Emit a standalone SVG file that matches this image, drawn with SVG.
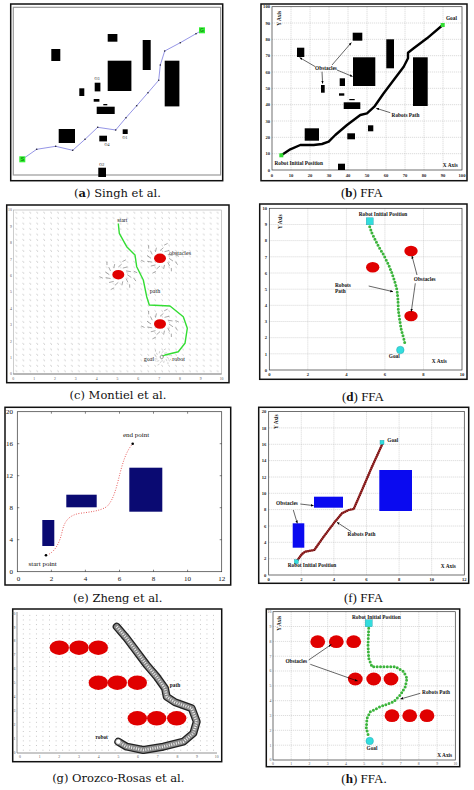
<svg xmlns="http://www.w3.org/2000/svg" xmlns:xlink="http://www.w3.org/1999/xlink" width="474" height="790" viewBox="0 0 474 790">
<style>
.frame{fill:none;stroke:#111;stroke-width:1.5}
.axis{fill:none;stroke:#333;stroke-width:0.7}
.grid{fill:none;stroke:#bbb;stroke-width:0.5;stroke-dasharray:1.2 0.8}
.tk{font-family:"Liberation Serif",serif;font-weight:bold;font-size:4.6px;fill:#222}
.tk.m{text-anchor:middle}
.tk.e{text-anchor:end}
.tks{font-family:"Liberation Serif",serif;font-size:3.8px;fill:#555}
.tkz{font-family:"Liberation Serif",serif;font-size:7px;fill:#111}
.lbl{font-family:"Liberation Serif",serif;font-weight:bold;font-size:5.3px;fill:#111}
.lr{font-family:"Liberation Serif",serif;font-size:6px;fill:#111}
.cap{font-family:"DejaVu Serif",serif;font-size:11.5px;fill:#111;text-anchor:middle}
.capt{font-family:"Liberation Serif",serif;font-size:13px;fill:#111;text-anchor:middle}
.blk{fill:#000}
.red{fill:#e00000}
.navy{fill:#0a0a72}
.blue{fill:#0a0af0}
.cyan{fill:#33dddd;stroke:#2299aa;stroke-width:0.4}
.arr{fill:none;stroke:#000;stroke-width:0.6;marker-end:url(#ah)}
.dots{fill:none;stroke:#3cb43c;stroke-width:3;stroke-linecap:round;stroke-dasharray:0 3.4;stroke-linejoin:round}
.sw line{stroke:#555;stroke-width:0.5}
</style>
<defs>
<marker id="ah" viewBox="0 0 10 10" refX="9" refY="5" markerWidth="5" markerHeight="5" orient="auto"><path d="M0 1 L10 5 L0 9 Z" fill="#000"/></marker>
<pattern id="fieldC" patternUnits="userSpaceOnUse" x="13.3" y="210" width="6.94" height="5.47"><path d="M2.6 2.2 L3.6 3.0" stroke="#777" stroke-width="0.7"/></pattern>
<pattern id="fieldG" patternUnits="userSpaceOnUse" x="20" y="613" width="6.56" height="4.65"><circle cx="3.3" cy="2.3" r="0.45" fill="#888"/></pattern>
<g id="swirl" class="sw">
<line x1="9" y1="0" x2="13" y2="2.8"/><line x1="7.79" y1="3.83" x2="9.6" y2="7.6"/><line x1="4.5" y1="6.63" x2="3.6" y2="10.6"/><line x1="0" y1="7.65" x2="-3.4" y2="10.6"/>
<line x1="-4.5" y1="6.63" x2="-9.2" y2="7.8"/><line x1="-7.79" y1="3.83" x2="-12.6" y2="3"/><line x1="-9" y1="0" x2="-13" y2="-2.8"/><line x1="-7.79" y1="-3.83" x2="-9.6" y2="-7.6"/>
<line x1="-4.5" y1="-6.63" x2="-3.6" y2="-10.6"/><line x1="0" y1="-7.65" x2="3.4" y2="-10.6"/><line x1="4.5" y1="-6.63" x2="9.2" y2="-7.8"/><line x1="7.79" y1="-3.83" x2="12.6" y2="-3"/>
<line x1="15.45" y1="3.52" x2="17.6" y2="6.4"/><line x1="11.31" y1="9.62" x2="11.4" y2="13"/><line x1="-4.14" y1="13.14" x2="-7.6" y2="14.9"/>
<line x1="-15.45" y1="3.52" x2="-18.9" y2="1.9"/><line x1="-11.31" y1="-9.62" x2="-11.4" y2="-13"/>
<line x1="4.14" y1="-13.14" x2="7.6" y2="-14.9"/><line x1="15.45" y1="-3.52" x2="18.9" y2="-1.9"/>
</g>
</defs>
<rect width="474" height="790" fill="#fff"/>

<!-- (a) Singh et al. -->
<g id="panel-a">
<rect class="frame" x="10.7" y="4" width="212" height="176.7"/>
<rect x="13.3" y="7.3" width="207.3" height="167.7" fill="none" stroke="#999" stroke-width="1.2"/>
<g id="a-obstacles" class="blk">
<rect x="107.7" y="34" width="9.7" height="7.7"/>
<rect x="51.3" y="49" width="9" height="12"/>
<rect x="142.7" y="40" width="8" height="30"/>
<rect x="107.7" y="60.7" width="23.7" height="30.3"/>
<rect x="164.7" y="60.7" width="14.7" height="45.7"/>
<rect x="79.3" y="88.3" width="5" height="7.7"/>
<rect x="94.7" y="82.7" width="5.7" height="8.7"/>
<rect x="93.7" y="99" width="5.7" height="2.7"/>
<rect x="103.3" y="104" width="4" height="1.3"/>
<rect x="96.7" y="106.7" width="18" height="7.3"/>
<rect x="58.7" y="129" width="16.3" height="14"/>
<rect x="99.3" y="135.7" width="7.7" height="5.7"/>
<rect x="122.7" y="129.3" width="5" height="4.7"/>
<rect x="98.3" y="167.7" width="7.7" height="9.3"/>
</g>
<g font-family="Liberation Serif,serif" font-size="4px" text-anchor="middle" fill="#111">
<text x="97" y="80.3">O3</text><text x="107" y="145.6">O4</text><text x="125" y="138.8">O1</text><text x="101.7" y="165.6">O2</text>
</g>
<g id="a-path">
<polyline points="22.3,159.3 36.7,149.3 55.7,146.3 72.7,150.3 85,139.3 97.7,127.3 115.7,130 126,117.7 136.7,105.7 148,92.7 158.7,80.3 160.3,65 164.7,51 180.3,42.7 196,33.7 202,30.3" fill="none" stroke="#7a7ae0" stroke-width="0.8"/>
<g fill="#223">
<circle cx="36.7" cy="149.3" r="0.8"/><circle cx="55.7" cy="146.3" r="0.8"/><circle cx="72.7" cy="150.3" r="0.8"/><circle cx="85" cy="139.3" r="0.8"/><circle cx="97.7" cy="127.3" r="0.8"/><circle cx="115.7" cy="130" r="0.8"/><circle cx="126" cy="117.7" r="0.8"/><circle cx="136.7" cy="105.7" r="0.8"/><circle cx="148" cy="92.7" r="0.8"/><circle cx="158.7" cy="80.3" r="0.8"/><circle cx="160.3" cy="65" r="0.8"/><circle cx="164.7" cy="51" r="0.8"/><circle cx="180.3" cy="42.7" r="0.8"/><circle cx="196" cy="33.7" r="0.8"/>
</g>
</g>
<g id="a-start"><rect x="19.3" y="156.3" width="6" height="6" fill="#33ee33"/><text x="22.3" y="161.2" font-family="Liberation Sans,sans-serif" font-size="5px" text-anchor="middle" fill="#060">S</text></g>
<g id="a-goal"><rect x="199" y="27.3" width="6" height="6" fill="#33ee33"/><text x="202" y="32.2" font-family="Liberation Sans,sans-serif" font-size="5px" text-anchor="middle" fill="#060">G</text></g>
<text class="cap" x="117.5" y="197">(<tspan font-weight="bold">a</tspan>) Singh et al.</text>
</g>

<!-- (b) FFA -->
<g id="panel-b">
<rect class="frame" x="261" y="4" width="206" height="176.7"/>
<g class="grid">
<path d="M291 6.7V170M310 6.7V170M329 6.7V170M348 6.7V170M367 6.7V170M386 6.7V170M405 6.7V170M424 6.7V170M443 6.7V170"/>
<path d="M272 153.67H462M272 137.33H462M272 121H462M272 104.67H462M272 88.33H462M272 72H462M272 55.67H462M272 39.33H462M272 23H462"/>
</g>
<rect class="axis" x="272" y="6.7" width="190" height="163.3"/>
<g class="tk e">
<text x="270" y="171.7">0</text><text x="270" y="155.4">10</text><text x="270" y="139">20</text><text x="270" y="122.7">30</text><text x="270" y="106.4">40</text><text x="270" y="90">50</text><text x="270" y="73.7">60</text><text x="270" y="57.4">70</text><text x="270" y="41">80</text><text x="270" y="24.7">90</text><text x="270" y="8.4">100</text>
</g>
<g class="tk m">
<text x="272" y="176.5">0</text><text x="291" y="176.5">10</text><text x="310" y="176.5">20</text><text x="329" y="176.5">30</text><text x="348" y="176.5">40</text><text x="367" y="176.5">50</text><text x="386" y="176.5">60</text><text x="405" y="176.5">70</text><text x="424" y="176.5">80</text><text x="443" y="176.5">90</text><text x="462" y="176.5">100</text>
</g>
<g id="b-obstacles" class="blk">
<rect x="352.7" y="32.7" width="9.6" height="8"/>
<rect x="297" y="47.7" width="7.3" height="9.3"/>
<rect x="386.3" y="39.3" width="7.7" height="29"/>
<rect x="353" y="57.3" width="22.3" height="28.7"/>
<rect x="413" y="57.3" width="14.7" height="48.7"/>
<rect x="339.7" y="78.3" width="5.3" height="7.7"/>
<rect x="321" y="85" width="3.7" height="7.7"/>
<rect x="339" y="93.3" width="5.3" height="2.4"/>
<rect x="349.3" y="99" width="5.4" height="1.2"/>
<rect x="343.7" y="102.3" width="16.6" height="6.7"/>
<rect x="304.7" y="128.3" width="14.3" height="12.4"/>
<rect x="347.3" y="133.3" width="7.7" height="6"/>
<rect x="368" y="125.3" width="5.3" height="6"/>
<rect x="338" y="163.7" width="7" height="6.3"/>
</g>
<polyline id="b-path" points="281.3,155.3 290.3,149.3 300.3,145 313.7,145 322,144 328.7,141.7 335.3,135 347,125 360.3,115 367,113.3 374.3,106.7 383.7,93.3 393.7,80 403.7,66.7 408,58.3 408,52.7 413.7,48.3 427,38.3 442.7,25" fill="none" stroke="#000" stroke-width="2.4" stroke-linejoin="round" stroke-linecap="round"/>
<rect x="279.3" y="153.3" width="4" height="4" fill="#33dd33"/>
<rect x="440.7" y="23" width="4" height="4" fill="#33dd33"/>
<g id="connectors-b">
<line class="arr" x1="315.3" y1="66.7" x2="299.7" y2="57.6"/>
<line class="arr" x1="332" y1="65" x2="351.3" y2="42.7"/>
<line class="arr" x1="322" y1="71.7" x2="322.6" y2="83.5"/>
<line class="arr" x1="337" y1="70" x2="352.5" y2="76.5"/>
<line class="arr" x1="390.3" y1="112.7" x2="376.3" y2="108.3"/>
</g>
<text class="lbl" x="326" y="69.8" text-anchor="middle">Obstacles</text>
<text class="lbl" x="405.5" y="116.5" text-anchor="middle">Robots Path</text>
<text class="lbl" x="446" y="20">Goal</text>
<text class="lbl" x="298.7" y="165" text-anchor="middle">Robot Initial Position</text>
<text class="lbl" x="450.3" y="166.7" text-anchor="middle">X Axis</text>
<text class="lbl" transform="translate(280.6,18.3) rotate(-90)" text-anchor="middle">Y Axis</text>
<text class="capt" x="362" y="197">(<tspan font-weight="bold">b</tspan>) FFA</text>
</g>

<!-- (c) Montiel et al. -->
<g id="panel-c">
<rect class="frame" x="6.7" y="205" width="222.3" height="177.7"/>
<rect x="13.3" y="210" width="208.3" height="164" fill="url(#fieldC)"/>
<rect x="13.3" y="210" width="208.3" height="164" fill="none" stroke="#999" stroke-width="0.5"/>
<line x1="13.3" y1="374" x2="221.6" y2="374" stroke="#888" stroke-width="1.2"/>
<g class="tks" text-anchor="middle">
<text x="13.3" y="380">0</text><text x="34.1" y="380">1</text><text x="55" y="380">2</text><text x="75.8" y="380">3</text><text x="96.6" y="380">4</text><text x="117.5" y="380">5</text><text x="138.3" y="380">6</text><text x="159.1" y="380">7</text><text x="180" y="380">8</text><text x="200.8" y="380">9</text><text x="221.6" y="380">10</text>
</g>
<g class="tks" text-anchor="end">
<text x="11.8" y="375.4">0</text><text x="11.8" y="359">1</text><text x="11.8" y="342.6">2</text><text x="11.8" y="326.2">3</text><text x="11.8" y="309.8">4</text><text x="11.8" y="293.4">5</text><text x="11.8" y="277">6</text><text x="11.8" y="260.6">7</text><text x="11.8" y="244.2">8</text><text x="11.8" y="227.8">9</text><text x="11.8" y="211.4">10</text>
</g>
<use xlink:href="#swirl" href="#swirl" transform="translate(160,258.3)"/>
<use xlink:href="#swirl" href="#swirl" transform="translate(118.3,274.7)"/>
<use xlink:href="#swirl" href="#swirl" transform="translate(160,324)"/>
<use xlink:href="#swirl" href="#swirl" transform="translate(161.7,357) scale(0.55)"/>
<g id="c-obstacles" class="red">
<ellipse cx="160" cy="258.3" rx="6" ry="4.8"/>
<ellipse cx="118.3" cy="274.7" rx="6" ry="4.8"/>
<ellipse cx="160" cy="324" rx="6" ry="4.8"/>
</g>
<polyline id="c-path" points="118.3,223.5 119.3,233.3 126.7,246.7 135,255 136.7,266.7 143.3,280 146.7,296.7 149.3,305 170,306 183.3,316.7 187.3,328.3 185,343.3 178.3,351.7 165,355 161.7,356.7" fill="none" stroke="#33dd33" stroke-width="1.4" stroke-linejoin="round"/>
<circle cx="161.7" cy="357" r="1.6" fill="#fff" stroke="#444" stroke-width="0.5"/>
<text class="lr" x="122.3" y="222" text-anchor="middle">start</text>
<text class="lr" x="180" y="254.5" text-anchor="middle">obstacles</text>
<text class="lr" x="155" y="292.5" text-anchor="middle">path</text>
<text class="lr" x="149" y="360.5" text-anchor="middle">goal</text>
<text class="lr" x="178.5" y="360.5" text-anchor="middle">robot</text>
<text class="cap" x="118" y="399">(c) Montiel et al.</text>
</g>

<!-- (d) FFA -->
<g id="panel-d">
<rect class="frame" x="259.7" y="204" width="207.3" height="175.3"/>
<g class="grid">
<path d="M307.8 208.3V370M346.4 208.3V370M384.9 208.3V370M423.5 208.3V370"/>
<path d="M269.3 353.8H462M269.3 337.7H462M269.3 321.5H462M269.3 305.3H462M269.3 289.2H462M269.3 273H462M269.3 256.8H462M269.3 240.6H462M269.3 224.5H462"/>
</g>
<rect class="axis" x="269.3" y="208.3" width="192.7" height="161.7"/>
<g class="tk e">
<text x="267" y="371.7">0</text><text x="267" y="355.5">1</text><text x="267" y="339.4">2</text><text x="267" y="323.2">3</text><text x="267" y="307">4</text><text x="267" y="290.9">5</text><text x="267" y="274.7">6</text><text x="267" y="258.5">7</text><text x="267" y="242.3">8</text><text x="267" y="226.2">9</text><text x="267" y="210">10</text>
</g>
<g class="tk m">
<text x="269.3" y="376">0</text><text x="307.8" y="376">2</text><text x="346.4" y="376">4</text><text x="384.9" y="376">6</text><text x="423.5" y="376">8</text><text x="462" y="376">10</text>
</g>
<g id="d-obstacles" class="red">
<ellipse cx="411" cy="251" rx="6.7" ry="5.2"/>
<ellipse cx="372.7" cy="267.3" rx="6.7" ry="5.2"/>
<ellipse cx="411" cy="316" rx="6.7" ry="5.2"/>
</g>
<path id="d-path" class="dots" d="M369.7 226.7 L372 233.3 L375.3 240 L378.7 246.7 L383.7 255 L388.7 265 L392 273.3 L395.3 283.3 L397 290 L398 300 L398.3 310 L399.7 320 L401.3 330 L403.7 338.3 L405.3 345"/>
<rect class="cyan" x="366.2" y="217.8" width="7" height="7"/>
<circle class="cyan" cx="400.3" cy="350" r="3.8"/>
<g id="connectors-d">
<line class="arr" x1="368.7" y1="286" x2="393" y2="291.7"/>
<line class="arr" x1="417" y1="275" x2="412" y2="256"/>
<line class="arr" x1="415.3" y1="283.3" x2="411.3" y2="311.5"/>
</g>
<text class="lbl" x="383" y="215.7" text-anchor="middle">Robot Initial Position</text>
<text class="lbl" x="335" y="286.5">Robots</text>
<text class="lbl" x="335" y="292.5">Path</text>
<text class="lbl" x="424.7" y="281" text-anchor="middle">Obstacles</text>
<text class="lbl" x="394.3" y="358.4" text-anchor="middle">Goal</text>
<text class="lbl" x="439.3" y="363.4" text-anchor="middle">X Axis</text>
<text class="lbl" transform="translate(282.2,221.7) rotate(-90)" text-anchor="middle">Y Axis</text>
<text class="capt" x="363" y="401">(<tspan font-weight="bold">d</tspan>) FFA</text>
</g>

<!-- (e) Zheng et al. -->
<g id="panel-e">
<rect class="frame" x="5" y="407.3" width="225.7" height="177.7"/>
<rect class="axis" x="17.3" y="411.7" width="204.4" height="160"/>
<path d="M51.4 571.7v-2M85.4 571.7v-2M119.5 571.7v-2M153.5 571.7v-2M187.6 571.7v-2M51.4 411.7v2M85.4 411.7v2M119.5 411.7v2M153.5 411.7v2M187.6 411.7v2M17.3 539.7h2M17.3 507.7h2M17.3 475.7h2M17.3 443.7h2M221.7 539.7h-2M221.7 507.7h-2M221.7 475.7h-2M221.7 443.7h-2" stroke="#333" stroke-width="0.6"/>
<g class="tkz" text-anchor="middle">
<text x="18.5" y="580.5">0</text><text x="51.4" y="580.5">2</text><text x="85.4" y="580.5">4</text><text x="119.5" y="580.5">6</text><text x="153.5" y="580.5">8</text><text x="187.6" y="580.5">10</text><text x="221.7" y="580.5">12</text>
</g>
<g class="tkz" text-anchor="end">
<text x="13" y="574.1">0</text><text x="13" y="542.1">4</text><text x="13" y="510.1">8</text><text x="13" y="478.1">12</text><text x="13" y="446.1">16</text><text x="13" y="414.1">20</text>
</g>
<g id="e-obstacles" class="navy">
<rect x="42.3" y="520" width="12" height="26"/>
<rect x="66.3" y="494.7" width="30.4" height="12.6"/>
<rect x="129.3" y="467.7" width="33" height="44"/>
</g>
<path id="e-path" d="M49.3 554 C56 550 60 542 62.5 530 C65 520 70 515 80 513.3 C90 512 100 511 106.7 506.7 C114 500 117 485 120 473.3 C123 462 126 452 131.7 445" fill="none" stroke="#e23a3a" stroke-width="0.9" stroke-dasharray="0.9 1.6"/>
<circle cx="46" cy="555.3" r="1.3" fill="#000"/>
<circle cx="132.7" cy="443.7" r="1.3" fill="#000"/>
<text class="tkz" x="136" y="436.5" text-anchor="middle">end point</text>
<text class="tkz" x="42.7" y="566" text-anchor="middle">start point</text>
<text class="cap" x="117.7" y="602">(e) Zheng et al.</text>
</g>

<!-- (f) FFA -->
<g id="panel-f">
<rect class="frame" x="258.7" y="407.3" width="210" height="176"/>
<g class="grid">
<path d="M301.3 411.6V575M333.9 411.6V575M366.5 411.6V575M399.1 411.6V575M431.7 411.6V575"/>
<path d="M268.7 558.7H464.3M268.7 542.3H464.3M268.7 526H464.3M268.7 509.6H464.3M268.7 493.3H464.3M268.7 477H464.3M268.7 460.6H464.3M268.7 444.3H464.3M268.7 427.9H464.3"/>
</g>
<rect class="axis" x="268.7" y="411.6" width="195.6" height="163.4"/>
<g class="tk e">
<text x="266.3" y="576.7">0</text><text x="266.3" y="560.4">2</text><text x="266.3" y="544">4</text><text x="266.3" y="527.7">6</text><text x="266.3" y="511.3">8</text><text x="266.3" y="495">10</text><text x="266.3" y="478.7">12</text><text x="266.3" y="462.3">14</text><text x="266.3" y="446">16</text><text x="266.3" y="429.6">18</text><text x="266.3" y="413.3">20</text>
</g>
<g class="tk m">
<text x="268.7" y="580.5">0</text><text x="301.3" y="580.5">2</text><text x="333.9" y="580.5">4</text><text x="366.5" y="580.5">6</text><text x="399.1" y="580.5">8</text><text x="431.7" y="580.5">10</text><text x="464.3" y="580.5">12</text>
</g>
<g id="f-obstacles" class="blue">
<rect x="292.7" y="523.3" width="11.6" height="24.4"/>
<rect x="314" y="496.7" width="29" height="11"/>
<rect x="379.3" y="470" width="32.7" height="41"/>
</g>
<g id="f-path">
<polyline points="296.3,561.7 302,554 305.3,551.7 314.3,550 323.7,536.7 333.7,523.3 342,513.3 348.7,510 353.7,509 362,490 372,466.7 382.7,443.3" fill="none" stroke="#a83030" stroke-width="2.2" stroke-linejoin="round"/>
<polyline points="296.3,561.7 302,554 305.3,551.7 314.3,550 323.7,536.7 333.7,523.3 342,513.3 348.7,510 353.7,509 362,490 372,466.7 382.7,443.3" fill="none" stroke="#5a0c0c" stroke-width="2.2" stroke-dasharray="0.8 1.2" stroke-linejoin="round"/>
</g>
<rect class="cyan" x="294.3" y="559.7" width="4" height="4"/>
<rect class="cyan" x="380" y="440.3" width="4" height="4"/>
<g id="connectors-f">
<line class="arr" x1="300.3" y1="504" x2="313.5" y2="505.6"/>
<line class="arr" x1="293.3" y1="510" x2="297.3" y2="523.3"/>
<line class="arr" x1="351.3" y1="531.7" x2="337" y2="522.3"/>
</g>
<text class="lbl" x="387.3" y="441.7">Goal</text>
<text class="lbl" x="287" y="505" text-anchor="middle">Obstacles</text>
<text class="lbl" x="361.5" y="535.7" text-anchor="middle">Robots Path</text>
<text class="lbl" x="312" y="567.4" text-anchor="middle">Robot Initial Position</text>
<text class="lbl" x="448.3" y="568.4" text-anchor="middle">X Axis</text>
<text class="lbl" transform="translate(277.9,421.7) rotate(-90)" text-anchor="middle">Y Axis</text>
<text class="capt" x="363.5" y="602">(f) FFA</text>
</g>

<!-- (g) Orozco-Rosas et al. -->
<g id="panel-g">
<rect class="frame" x="12.7" y="609" width="209" height="152.7"/>
<rect x="17" y="613" width="200" height="140" fill="url(#fieldG)"/>
<path d="M17 612V753H217" fill="none" stroke="#777" stroke-width="0.8"/>
<g class="tks" text-anchor="middle" font-size="3.4px">
<text x="20" y="757.8">0</text><text x="39.7" y="757.8">1</text><text x="59.3" y="757.8">2</text><text x="79" y="757.8">3</text><text x="98.7" y="757.8">4</text><text x="118.4" y="757.8">5</text><text x="138" y="757.8">6</text><text x="157.7" y="757.8">7</text><text x="177.4" y="757.8">8</text><text x="197" y="757.8">9</text><text x="216.7" y="757.8">10</text>
</g>
<g class="tks" text-anchor="end" font-size="3.4px">
<text x="15.5" y="753.9">0</text><text x="15.5" y="740">1</text><text x="15.5" y="726">2</text><text x="15.5" y="712.1">3</text><text x="15.5" y="698.1">4</text><text x="15.5" y="684.2">5</text><text x="15.5" y="670.3">6</text><text x="15.5" y="656.3">7</text><text x="15.5" y="642.4">8</text><text x="15.5" y="628.5">9</text><text x="15.5" y="614.5">10</text>
</g>
<g id="g-obstacles" class="red">
<ellipse cx="59.3" cy="647.7" rx="9.7" ry="7.3"/><ellipse cx="79" cy="647.7" rx="9.7" ry="7.3"/><ellipse cx="98.3" cy="647.7" rx="9.7" ry="7.3"/>
<ellipse cx="98.3" cy="682.7" rx="9.7" ry="7.3"/><ellipse cx="117.3" cy="682.7" rx="9.7" ry="7.3"/><ellipse cx="137.3" cy="682.7" rx="9.7" ry="7.3"/>
<ellipse cx="137.3" cy="718.3" rx="9.7" ry="7.3"/><ellipse cx="156.7" cy="718.3" rx="9.7" ry="7.3"/><ellipse cx="176.7" cy="718.3" rx="9.7" ry="7.3"/>
</g>
<g id="g-path" fill="none" stroke-linejoin="round" stroke-linecap="round">
<polyline points="116.7,626.7 126.7,638.3 136.7,651.7 146.7,665 156.7,676.7 165,688.3 166.7,696.7 175,702.3 191.7,708.3 196.7,721.7 193.3,733.3 183.3,741.7 163.3,746.7 143.3,750 126.7,746.7 118.3,741.7" stroke="#222" stroke-width="8"/>
<polyline points="116.7,626.7 126.7,638.3 136.7,651.7 146.7,665 156.7,676.7 165,688.3 166.7,696.7 175,702.3 191.7,708.3 196.7,721.7 193.3,733.3 183.3,741.7 163.3,746.7 143.3,750 126.7,746.7 118.3,741.7" stroke="#8a8a8a" stroke-width="5.4"/>
<polyline points="116.7,626.7 126.7,638.3 136.7,651.7 146.7,665 156.7,676.7 165,688.3 166.7,696.7 175,702.3 191.7,708.3 196.7,721.7 193.3,733.3 183.3,741.7 163.3,746.7 143.3,750 126.7,746.7 118.3,741.7" stroke="#eee" stroke-width="2.6" stroke-dasharray="1 1.4" stroke-linecap="butt"/>
</g>
<circle cx="118.3" cy="741.7" r="2.6" fill="#fff" stroke="#555" stroke-width="0.5"/>
<text class="lbl" x="175" y="686.7" text-anchor="middle">path</text>
<text class="lbl" x="101.7" y="739.3" text-anchor="middle" font-size="4.6px">robot</text>
<text class="cap" x="118.3" y="782">(g) Orozco-Rosas et al.</text>
</g>

<!-- (h) FFA -->
<g id="panel-h">
<rect class="frame" x="266.3" y="609" width="193.4" height="157.7"/>
<g class="grid">
<path d="M291.2 611.7V760M309.5 611.7V760M327.7 611.7V760M345.9 611.7V760M364.2 611.7V760M382.4 611.7V760M400.6 611.7V760M418.8 611.7V760M437.1 611.7V760"/>
<path d="M273 745.2H455.3M273 730.3H455.3M273 715.5H455.3M273 700.7H455.3M273 685.9H455.3M273 671H455.3M273 656.2H455.3M273 641.4H455.3M273 626.5H455.3"/>
</g>
<rect class="axis" x="273" y="611.7" width="182.3" height="148.3"/>
<g class="tks" text-anchor="end" font-size="3.6px">
<text x="271.3" y="761.3">0</text><text x="271.3" y="746.5">1</text><text x="271.3" y="731.6">2</text><text x="271.3" y="716.8">3</text><text x="271.3" y="702">4</text><text x="271.3" y="687.2">5</text><text x="271.3" y="672.3">6</text><text x="271.3" y="657.5">7</text><text x="271.3" y="642.7">8</text><text x="271.3" y="627.8">9</text><text x="271.3" y="613">10</text>
</g>
<g class="tks" text-anchor="middle" font-size="3.6px">
<text x="273" y="764.6">0</text><text x="291.2" y="764.6">1</text><text x="309.5" y="764.6">2</text><text x="327.7" y="764.6">3</text><text x="345.9" y="764.6">4</text><text x="364.2" y="764.6">5</text><text x="382.4" y="764.6">6</text><text x="400.6" y="764.6">7</text><text x="418.8" y="764.6">8</text><text x="437.1" y="764.6">9</text><text x="455.3" y="764.6">10</text>
</g>
<g id="h-obstacles" class="red">
<ellipse cx="317.7" cy="641.7" rx="7.4" ry="6.4"/><ellipse cx="336.3" cy="641.7" rx="7.4" ry="6.4"/><ellipse cx="353.7" cy="641.7" rx="7.4" ry="6.4"/>
<ellipse cx="355.3" cy="679" rx="7.4" ry="6.4"/><ellipse cx="373.7" cy="679" rx="7.4" ry="6.4"/><ellipse cx="391" cy="679" rx="7.4" ry="6.4"/>
<ellipse cx="392" cy="715.7" rx="7.4" ry="6.4"/><ellipse cx="409.7" cy="715.7" rx="7.4" ry="6.4"/><ellipse cx="427" cy="715.7" rx="7.4" ry="6.4"/>
</g>
<path id="h-path" class="dots" d="M368.7 628.3 L368 645 L368.7 658.3 L372 666.7 L383.7 666.7 L395.3 666.7 L403.7 671.7 L407 678.3 L405.3 686.7 L400.3 695 L393.7 701.7 L380.3 706.7 L370.3 711.7 L367 718.3 L366.3 728.3 L368.7 736.7"/>
<rect class="cyan" x="365.2" y="619.8" width="7" height="7"/>
<circle class="cyan" cx="369.7" cy="741" r="3.8"/>
<g id="connectors-h">
<line class="arr" x1="308.7" y1="660" x2="331.3" y2="644.5"/>
<line class="arr" x1="310.3" y1="664.3" x2="357.5" y2="681"/>
<line class="arr" x1="420.3" y1="693.3" x2="400.6" y2="699"/>
</g>
<text class="lbl" x="376.3" y="618.7" text-anchor="middle">Robot Initial Position</text>
<text class="lbl" x="296.3" y="663.4" text-anchor="middle">Obstacles</text>
<text class="lbl" x="436" y="694.4" text-anchor="middle">Robots Path</text>
<text class="lbl" x="372" y="750" text-anchor="middle">Goal</text>
<text class="lbl" x="444.7" y="757.4" text-anchor="middle">X Axis</text>
<text class="lbl" transform="translate(281.4,623.3) rotate(-90)" text-anchor="middle">Y Axis</text>
<text class="capt" x="364" y="783">(<tspan font-weight="bold">h</tspan>) FFA.</text>
</g>
</svg>
